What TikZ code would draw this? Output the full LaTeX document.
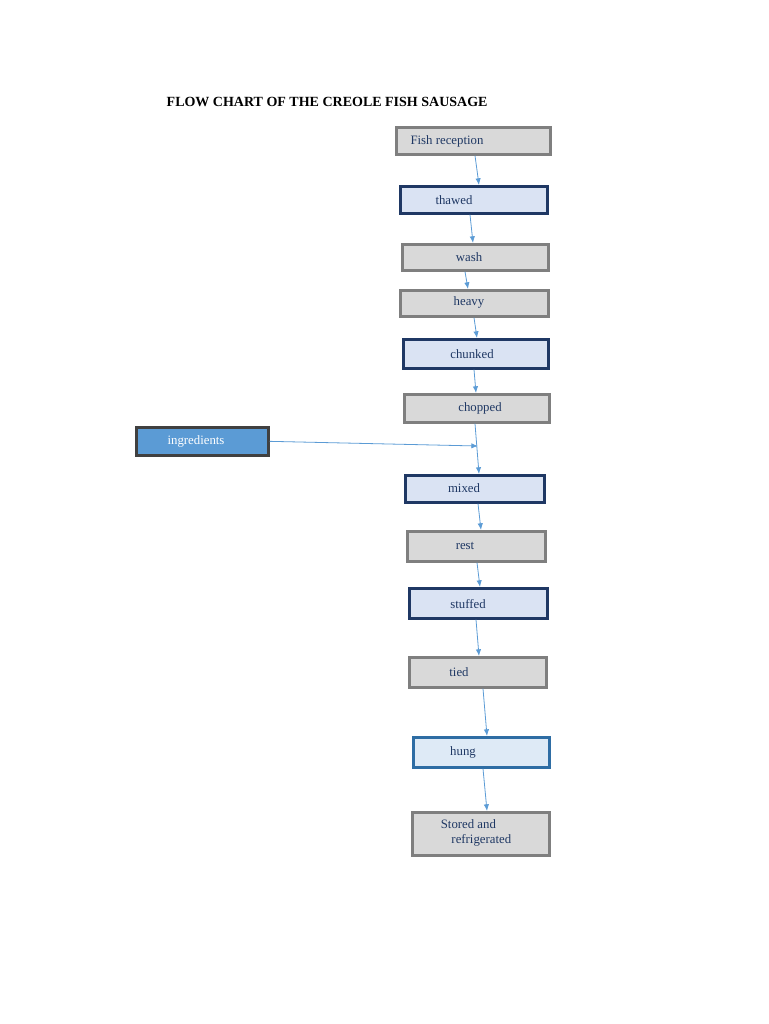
\documentclass[tikz,border=0pt]{standalone}
\usepackage{fontspec}
\setmainfont{Liberation Serif}
\usetikzlibrary{arrows.meta}
\begin{document}
\begin{tikzpicture}[x=0.75pt,y=-0.75pt,
  box/.style={draw, line width=2pt, anchor=north west, inner sep=0pt, text=txt, font=\fontsize{9.6pt}{11pt}\selectfont},
  gbox/.style={box, draw=boxgray, fill=fillgray},
  bbox/.style={box, draw=navy, fill=fillblue},
  arr/.style={draw=arrblue, line width=0.6pt, -{Latex[length=5pt,width=4pt]}}]
\definecolor{boxgray}{HTML}{7F7F7F}
\definecolor{fillgray}{HTML}{D9D9D9}
\definecolor{navy}{HTML}{1F3864}
\definecolor{fillblue}{HTML}{DAE3F3}
\definecolor{txt}{HTML}{1F3864}
\definecolor{arrblue}{HTML}{5B9BD5}
\definecolor{ingfill}{HTML}{5B9BD5}
\definecolor{hungdraw}{HTML}{2E6DA4}
\definecolor{hungfill}{HTML}{DEEAF6}
\useasboundingbox (0,0) rectangle (768,1024);
\node[anchor=west, font=\bfseries\fontsize{10.5pt}{12pt}\selectfont] (title) at (162,102) {FLOW CHART OF THE CREOLE FISH SAUSAGE};
\newcommand\bx[7]{\node[#1, minimum width=#4*0.75pt-#2*0.75pt, minimum height=#5*0.75pt-#3*0.75pt] (#6) at (#2,#3) {};}
\bx{gbox}{395}{126}{549}{153}{n1}{}
\bx{bbox}{399}{185}{546}{212}{n2}{}
\bx{gbox}{401}{243}{547}{269}{n3}{}
\bx{gbox}{399}{289}{547}{315}{n4}{}
\bx{bbox}{402}{338}{547}{367}{n5}{}
\bx{gbox}{403}{393}{548}{421}{n6}{}
\bx{box,draw=black!75,fill=ingfill}{135}{426}{267}{454}{ing}{}
\bx{bbox}{404}{474}{543}{501}{n7}{}
\bx{gbox}{406}{530}{544}{560}{n8}{}
\bx{bbox}{408}{587}{546}{617}{n9}{}
\bx{gbox}{408}{656}{545}{686}{n10}{}
\bx{box,draw=hungdraw,fill=hungfill}{412}{736}{548}{766}{n11}{}
\bx{gbox}{411}{811}{548}{854}{n12}{}
\tikzset{lbl/.style={text=txt, font=\fontsize{9.6pt}{11pt}\selectfont}}
\node[lbl] at (447,141) {Fish reception};
\node[lbl] at (454,200) {thawed};
\node[lbl] at (469,257) {wash};
\node[lbl] at (469,302) {heavy};
\node[lbl] at (472,354) {chunked};
\node[lbl] at (480,408) {chopped};
\node[lbl,text=white] at (196,441) {ingredients};
\node[lbl] at (464,488) {mixed};
\node[lbl] at (465,546) {rest};
\node[lbl] at (468,604) {stuffed};
\node[lbl] at (459,672) {tied};
\node[lbl] at (463,752) {hung};
\node[lbl, align=left] at (476,833) {Stored and\\\hspace*{8pt}refrigerated};
\draw[arr] ([xshift=80*0.75pt]n1.south west) -- ([xshift=80*0.75pt]n2.north west);
\draw[arr] ([xshift=71*0.75pt]n2.south west) -- ([xshift=72*0.75pt]n3.north west);
\draw[arr] ([xshift=64*0.75pt]n3.south west) -- ([xshift=69*0.75pt]n4.north west);
\draw[arr] ([xshift=75*0.75pt]n4.south west) -- ([xshift=75*0.75pt]n5.north west);
\draw[arr] ([xshift=72*0.75pt]n5.south west) -- ([xshift=73*0.75pt]n6.north west);
\draw[arr] ([xshift=72*0.75pt]n6.south west) -- ([xshift=75*0.75pt]n7.north west);
\coordinate (join) at (478,446);
\draw[arr] (ing.east) -- (join);
\draw[arr] ([xshift=74*0.75pt]n7.south west) -- ([xshift=75*0.75pt]n8.north west);
\draw[arr] ([xshift=71*0.75pt]n8.south west) -- ([xshift=72*0.75pt]n9.north west);
\draw[arr] ([xshift=68*0.75pt]n9.south west) -- ([xshift=71*0.75pt]n10.north west);
\draw[arr] ([xshift=75*0.75pt]n10.south west) -- ([xshift=75*0.75pt]n11.north west);
\draw[arr] ([xshift=71*0.75pt]n11.south west) -- ([xshift=76*0.75pt]n12.north west);
\end{tikzpicture}
\end{document}
